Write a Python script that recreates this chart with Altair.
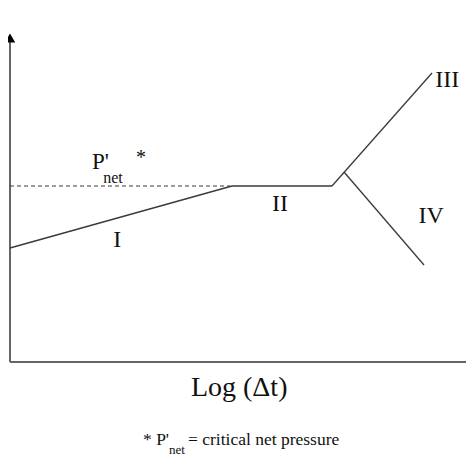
import altair as alt
import pandas as pd

# Schematic values (arbitrary units: x = log(dt), y = net pressure)
seg_names = ["I", "II", "III", "IV", "dash"]
seg_x1 = [0.0, 5.55, 8.05, 8.35, 0.0]
seg_y1 = [2.85, 4.40, 4.40, 4.75, 4.40]
seg_x2 = [5.55, 8.05, 10.55, 10.35, 5.5]
seg_y2 = [4.40, 4.40, 7.225, 2.425, 4.40]

label_text = ["I", "II", "III", "IV"]
label_x = [2.68, 6.75, 10.93, 10.53]
label_y = [3.05, 3.95, 7.05, 3.65]

FONT = "Liberation Serif"
XD = [-0.05, 11.4]
YD = [-2.4, 8.85]

xs = alt.Scale(domain=XD, nice=False, zero=False)
ys = alt.Scale(domain=YD, nice=False, zero=False)

segs = pd.DataFrame({"name": seg_names, "x": seg_x1, "y": seg_y1, "x2": seg_x2, "y2": seg_y2})

solid = alt.Chart(segs[segs["name"] != "dash"]).mark_rule(color="#3a3a3a", strokeWidth=1.3).encode(
    x=alt.X("x:Q", scale=xs, axis=None), y=alt.Y("y:Q", scale=ys, axis=None),
    x2="x2:Q", y2="y2:Q")
dash = alt.Chart(segs[segs["name"] == "dash"]).mark_rule(color="#3a3a3a", strokeWidth=1, strokeDash=[4, 3]).encode(
    x=alt.X("x:Q", scale=xs, axis=None), y=alt.Y("y:Q", scale=ys, axis=None),
    x2="x2:Q", y2="y2:Q")

axes_df = pd.DataFrame({"x": [0.0, 0.0], "y": [0.0, 0.0], "x2": [0.0, 11.4], "y2": [8.1, 0.0]})
axes = alt.Chart(axes_df).mark_rule(color="#666666", strokeWidth=2).encode(
    x=alt.X("x:Q", scale=xs, axis=None), y=alt.Y("y:Q", scale=ys, axis=None),
    x2="x2:Q", y2="y2:Q")

arrow = alt.Chart(pd.DataFrame({"x": [0.0], "y": [8.1]})).mark_point(
    shape="triangle-up", filled=True, color="black", size=110, opacity=1).encode(
    x=alt.X("x:Q", scale=xs, axis=None), y=alt.Y("y:Q", scale=ys, axis=None))

labels = alt.Chart(pd.DataFrame({"t": label_text, "x": label_x, "y": label_y})).mark_text(
    font=FONT, fontSize=24, color="#111", baseline="middle", align="center").encode(
    x=alt.X("x:Q", scale=xs, axis=None), y=alt.Y("y:Q", scale=ys, axis=None), text="t:N")

ann = pd.DataFrame({
    "t": ["P'", "net", "*", "Log (\u0394t)", "* P'", "net", "= critical net pressure"],
    "x": [2.05, 2.33, 3.15, 5.73, 3.325, 3.975, 4.45],
    "y": [5.0, 4.6, 5.1, -0.65, -1.95, -2.2, -1.95],
    "size": [23, 16, 20, 28, 17.5, 13, 17.5],
    "align": ["left", "left", "left", "center", "left", "left", "left"],
})

def txt(row):
    return alt.Chart(pd.DataFrame([row])).mark_text(
        font=FONT, fontSize=float(row["size"]), color="#111", baseline="middle", align=row["align"]).encode(
        x=alt.X("x:Q", scale=xs, axis=None), y=alt.Y("y:Q", scale=ys, axis=None), text="t:N")

texts = [txt(r) for r in ann.to_dict("records")]

chart = alt.layer(axes, arrow, dash, solid, labels, *texts).properties(
    width=458, height=450, autosize=alt.AutoSizeParams(type="none"), padding=0
).configure_view(stroke=None)

chart.save("out.html", embed_options={"renderer": "svg", "actions": False})
